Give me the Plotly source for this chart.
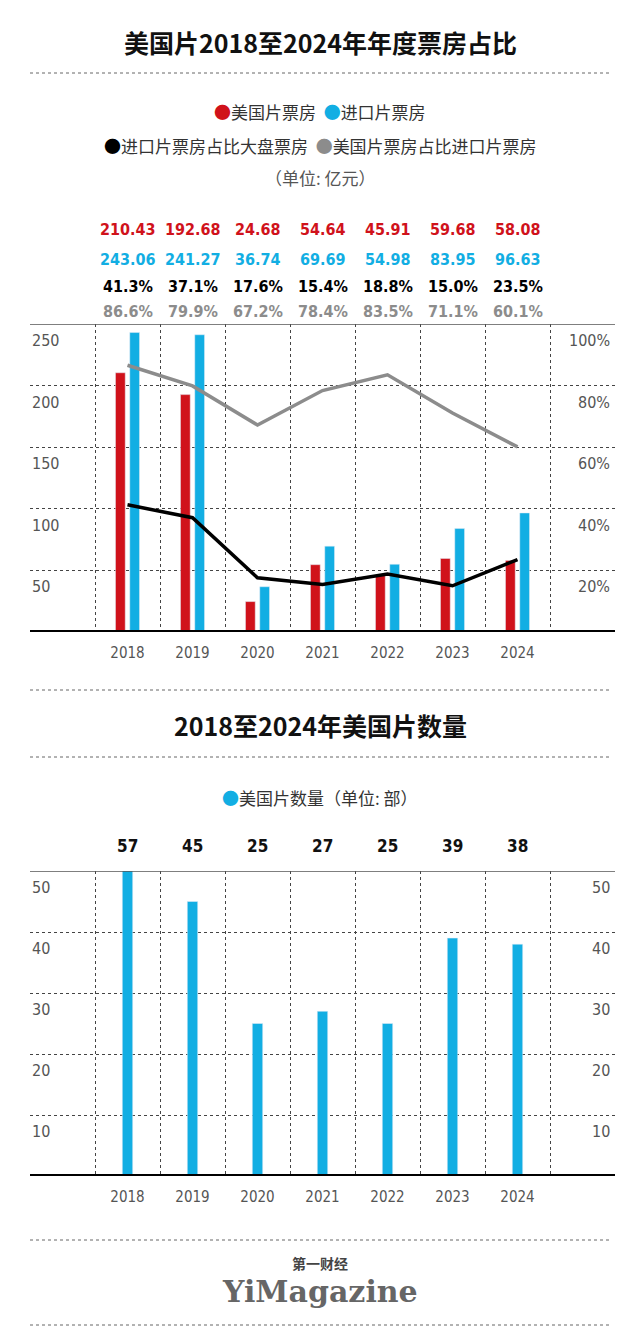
import plotly.graph_objects as go

years = ["2018", "2019", "2020", "2021", "2022", "2023", "2024"]
us_box = [210.43, 192.68, 24.68, 54.64, 45.91, 59.68, 58.08]
import_box = [243.06, 241.27, 36.74, 69.69, 54.98, 83.95, 96.63]
import_share = [41.3, 37.1, 17.6, 15.4, 18.8, 15.0, 23.5]
us_share_of_import = [86.6, 79.9, 67.2, 78.4, 83.5, 71.1, 60.1]
us_count = [57, 45, 25, 27, 25, 39, 38]
left_ticks_top = [50, 100, 150, 200, 250]
right_ticks_top = [20, 40, 60, 80, 100]
ticks_bottom = [10, 20, 30, 40, 50]

RED = "#d0121b"; BLUE = "#12aee3"; GRAY = "#8c8c8c"
CJK = "Noto Sans CJK SC"; NUM = "DejaVu Sans Condensed"
H = 1339; W = 640; OFF = 8
def py(px): return (H - (px - OFF)) / H
def px_(xp): return (xp - OFF) / W

x = list(range(len(years)))
fig = go.Figure()
fig.add_bar(x=[i - 0.11 for i in x], y=us_box, width=0.15, marker_color=RED, xaxis="x", yaxis="y")
fig.add_bar(x=[i + 0.11 for i in x], y=import_box, width=0.15, marker_color=BLUE, xaxis="x", yaxis="y")
fig.add_scatter(x=x, y=import_share, mode="lines", line=dict(color="black", width=3.5), xaxis="x", yaxis="y2")
fig.add_scatter(x=x, y=us_share_of_import, mode="lines", line=dict(color=GRAY, width=3.5), xaxis="x", yaxis="y2")
fig.add_bar(x=x, y=us_count, width=0.16, marker_color=BLUE, xaxis="x2", yaxis="y3", cliponaxis=False)

xcommon = dict(range=[-1.5, 7.5], tickvals=x, ticktext=years, showgrid=False, zeroline=False,
               tickfont=dict(family=NUM, size=15, color="#555"), ticks="", ticklabelstandoff=10,
               minor=dict(tickvals=[i - 0.5 for i in range(8)], showgrid=True, griddash="dot",
                          gridcolor="#444", gridwidth=1))
ycommon = dict(showticklabels=False, zeroline=False, showgrid=True, griddash="dot", gridcolor="#444",
               gridwidth=1, ticks="", showline=False)
top_dom = [py(632), py(324)]
bot_dom = [py(1176), py(871)]
XL, XR = px_(30), px_(615)
fig.update_layout(
    width=W, height=H, margin=dict(l=0, r=0, t=0, b=0), showlegend=False, barmode="overlay",
    paper_bgcolor="white", plot_bgcolor="white",
    xaxis=dict(domain=[XL, XR], anchor="y", **xcommon),
    yaxis=dict(domain=top_dom, range=[0, 250], tickvals=left_ticks_top, **ycommon),
    yaxis2=dict(domain=top_dom, range=[0, 100], overlaying="y", anchor="x", showgrid=False,
                showticklabels=False, zeroline=False),
    xaxis2=dict(domain=[XL, XR], anchor="y3", **xcommon),
    yaxis3=dict(domain=bot_dom, range=[0, 50], tickvals=ticks_bottom, **ycommon),
)
shapes = []
for ya in ["y", "y3"]:
    shapes.append(dict(type="line", xref="paper", x0=XL, x1=XR, yref=ya, y0=0, y1=0,
                       line=dict(color="black", width=4)))
shapes.append(dict(type="line", xref="paper", x0=XL, x1=XR, yref="y", y0=250, y1=250,
                   line=dict(color="#555", width=1.5)))
shapes.append(dict(type="line", xref="paper", x0=XL, x1=XR, yref="y3", y0=50, y1=50,
                   line=dict(color="#555", width=1.5)))
for ypx in [73, 690, 757, 1240, 1325]:
    shapes.append(dict(type="line", xref="paper", x0=XL, x1=px_(612), yref="paper", y0=py(ypx), y1=py(ypx),
                       line=dict(color="#666", width=1, dash="dot")))
fig.update_layout(shapes=shapes)

ann = []
CX = px_(320)
def A(text, ypx, size, color="#222", family=CJK, bold=False):
    ann.append(dict(text=f"<b>{text}</b>" if bold else text, x=CX, y=py(ypx), xref="paper", yref="paper",
                    showarrow=False, xanchor="center", yanchor="middle",
                    font=dict(size=size, color=color, family=family)))

A("美国片2018至2024年年度票房占比", 42, 25, "#111", bold=True)
A(f"<span style='color:{RED}'>●</span>美国片票房  <span style='color:{BLUE}'>●</span>进口片票房", 112, 17, "#333")
A(f"<span style='color:black'>●</span>进口片票房占比大盘票房  <span style='color:{GRAY}'>●</span>美国片票房占比进口片票房", 146, 17, "#333")
A("（单位: 亿元）", 178, 17, "#555")
A("2018至2024年美国片数量", 725, 25, "#111", bold=True)
A(f"<span style='color:{BLUE}'>●</span>美国片数量（单位: 部）", 797, 17, "#333")
A("第一财经", 1263, 14, "#444", bold=True)
A("YiMagazine", 1291, 30, "#666", family="DejaVu Serif", bold=True)

rows = [(us_box, RED, 218, "{:.2f}"), (import_box, BLUE, 248, "{:.2f}"),
        (import_share, "black", 275, "{:.1f}%"), (us_share_of_import, GRAY, 300, "{:.1f}%")]
for vals, col, ypx, fmt in rows:
    for i, v in enumerate(vals):
        ann.append(dict(text=f"<b>{fmt.format(v)}</b>", x=i, xref="x", y=py(ypx), yref="paper",
                        showarrow=False, font=dict(size=16, color=col, family=NUM)))
for i, v in enumerate(us_count):
    ann.append(dict(text=f"<b>{v}</b>", x=i, xref="x2", y=py(846), yref="paper",
                    showarrow=False, font=dict(size=17, color="#111", family=NUM)))

def ticklab(vals, yref, xp, xanchor, suffix=""):
    for v in vals:
        ann.append(dict(text=f"{v}{suffix}", x=xp, xref="paper", y=v, yref=yref, xanchor=xanchor,
                        yanchor="top", yshift=-5, showarrow=False,
                        font=dict(size=16, color="#555", family=NUM)))
ticklab(left_ticks_top, "y", XL, "left")
ticklab(right_ticks_top, "y2", px_(612), "right", "%")
ticklab(ticks_bottom, "y3", XL, "left")
ticklab(ticks_bottom, "y3", px_(612), "right")
fig.update_layout(annotations=ann)
fig.write_html("out.html")
